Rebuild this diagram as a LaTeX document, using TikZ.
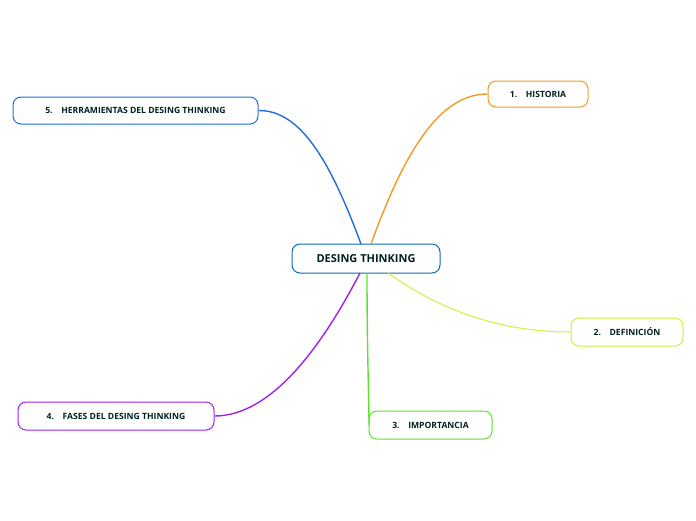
\documentclass[tikz,border=0pt]{standalone}
\usepackage{fontspec}
\setmainfont{Open Sans}
\begin{document}
\begin{tikzpicture}[x=1pt,y=-1pt,
  box/.style={draw,rounded corners=8pt,line width=1pt,font=\bfseries\fontsize{8.6}{9}\selectfont,text=black!75!teal,inner sep=0pt,align=center},
  link/.style={line width=1.4pt}]
\useasboundingbox (0,0) rectangle (696,520);
\definecolor{cblue}{HTML}{1E6FD9}
\definecolor{corange}{HTML}{F59A23}
\definecolor{cyel}{HTML}{D4EC3A}
\definecolor{cgreen}{HTML}{5BE32A}
\definecolor{cpurp}{HTML}{A020F0}
\definecolor{cdark}{HTML}{0B6CB5}
\node[box,draw=cdark,minimum width=148pt,minimum height=29pt,font=\bfseries\fontsize{11}{12}\selectfont] (c) at (366,258.5) {DESING THINKING};
\node[box,draw=corange,minimum width=100pt,minimum height=26pt] (h) at (538,94) {1.\quad HISTORIA};
\node[box,draw=cyel,minimum width=112pt,minimum height=28pt] (d) at (627,332) {2.\quad DEFINICIÓN};
\node[box,draw=cgreen,minimum width=123pt,minimum height=28pt] (i) at (430.5,425) {3.\quad IMPORTANCIA};
\node[box,draw=cpurp,minimum width=196pt,minimum height=28pt] (f) at (116,416) {4.\quad FASES DEL DESING THINKING};
\node[box,draw=cblue,minimum width=245pt,minimum height=27pt] (t) at (135.5,110.5) {5.\quad HERRAMIENTAS DEL DESING THINKING};
\coordinate (co) at (371,244);
\coordinate (cb) at (361,244);
\coordinate (cp) at (360,273);
\coordinate (cg) at (367,273);
\coordinate (cy) at (388,273);
\draw[link,corange] (co) .. controls (405,150) and (440,94) .. (h.west);
\draw[link,cblue] (cb) .. controls (330,160) and (300,110) .. (t.east);
\draw[link,cpurp] (cp) .. controls (320,350) and (270,416) .. (f.east);
\draw[link,cgreen] (cg) .. controls (367,350) and (369,400) .. (369,425);
\draw[link,cyel,line width=1pt] (cy) .. controls (440,310) and (500,332) .. (d.west);
\end{tikzpicture}
\end{document}
